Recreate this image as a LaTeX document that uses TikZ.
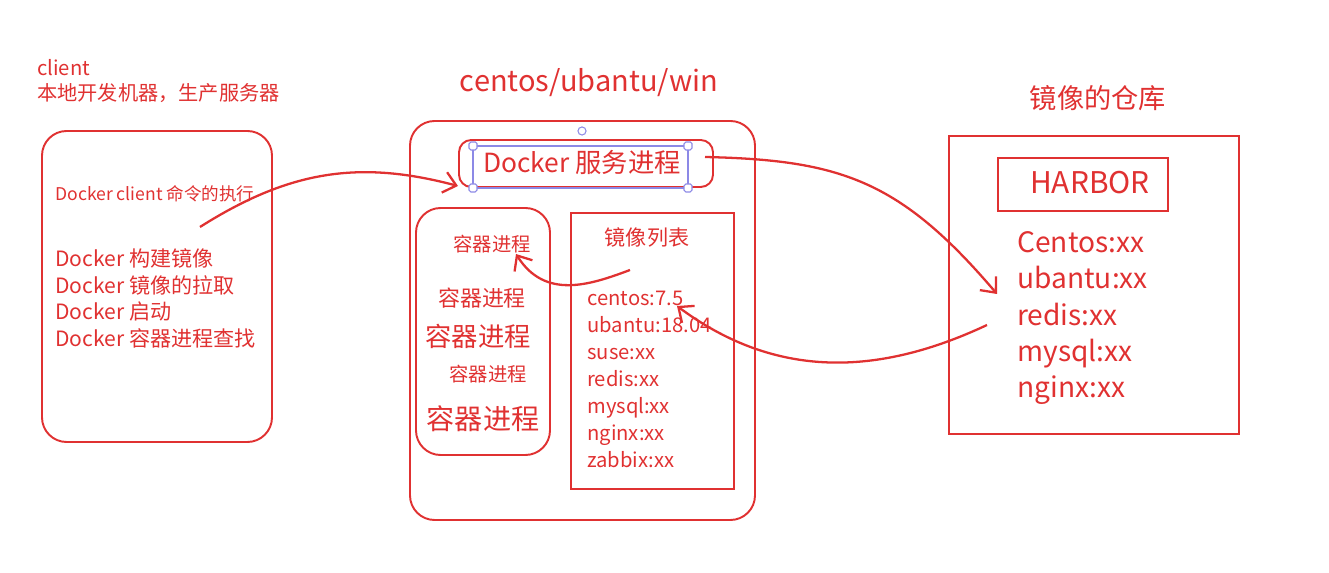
\documentclass[tikz,border=0pt]{standalone}
\usepackage{fontspec}
\setmainfont{Noto Sans CJK SC}
\usepackage{xcolor}
\usetikzlibrary{arrows.meta}
\definecolor{inkred}{HTML}{E03131}
\definecolor{selblue}{HTML}{8C89E6}

\begin{document}
\begin{tikzpicture}[x=0.02cm,y=-0.02cm,
    box/.style={draw=inkred,line width=1.1pt},
    link/.style={draw=inkred,line width=1.3pt,-{Straight Barb[length=7pt,width=12pt]}},
    txt/.style={text=inkred,inner sep=0pt,text height=1em,text depth=0.12em},
    handle/.style={draw=selblue,fill=white,line width=0.6pt}]
  \useasboundingbox (0,0) rectangle (1329,573);

  \node[txt,anchor=west,font=\fontsize{11.5}{13}\selectfont] (clientname) at (37,68) {client};
  \node[txt,anchor=west,font=\fontsize{11.5}{13}\selectfont] (clientrole) at (37,93) {本地开发机器，生产服务器};
  \draw[box,rounded corners=14pt] (42,131) rectangle (272,442);
  \node[txt,anchor=west,font=\fontsize{10}{12}\selectfont] (cmdexec) at (55,193) {Docker client 命令的执行};
  \node[txt,anchor=west,font=\fontsize{12}{14}\selectfont] (cmdbuild) at (55,259) {Docker 构建镜像};
  \node[txt,anchor=west,font=\fontsize{12}{14}\selectfont] (cmdpull) at (55,286) {Docker 镜像的拉取};
  \node[txt,anchor=west,font=\fontsize{12}{14}\selectfont] (cmdrun) at (55,312) {Docker 启动};
  \node[txt,anchor=west,font=\fontsize{12}{14}\selectfont] (cmdps) at (55,339) {Docker 容器进程查找};

  \node[txt,font=\fontsize{16.5}{19}\selectfont] (hosttitle) at (589,84) {centos/ubantu/win};
  \draw[box,rounded corners=14pt] (410,121) rectangle (755,520);
  \draw[box,rounded corners=7pt] (459,140) rectangle (713,187);
  \node[txt,font=\fontsize{15}{17}\selectfont] (daemon) at (582,165) {Docker 服务进程};
  \draw[selblue,line width=0.6pt] (473,146) rectangle (688,188);
  \draw[handle,rounded corners=1pt] (469,142) rectangle (477,150);
  \draw[handle,rounded corners=1pt] (684,142) rectangle (692,150);
  \draw[handle,rounded corners=1pt] (469,184) rectangle (477,192);
  \draw[handle,rounded corners=1pt] (684,184) rectangle (692,192);
  \draw[handle] (582,131) circle (2.3pt);

  \draw[box,rounded corners=14pt] (416,208) rectangle (550,455);
  \node[txt,font=\fontsize{11}{13}\selectfont] (proc1) at (492,244) {容器进程};
  \node[txt,font=\fontsize{12.5}{14}\selectfont] (proc2) at (482,299) {容器进程};
  \node[txt,font=\fontsize{15}{17}\selectfont] (proc3) at (478,339) {容器进程};
  \node[txt,font=\fontsize{11}{13}\selectfont] (proc4) at (488,374) {容器进程};
  \node[txt,font=\fontsize{16}{18}\selectfont] (proc5) at (483,422) {容器进程};

  \draw[box] (571,213) rectangle (734,489);
  \node[txt,font=\fontsize{12}{14}\selectfont] (imglist) at (647,238) {镜像列表};
  \node[txt,anchor=west,font=\fontsize{11.5}{13}\selectfont] (imgcentos) at (587,298) {centos:7.5};
  \node[txt,anchor=west,font=\fontsize{11.5}{13}\selectfont] (imgubantu) at (587,325) {ubantu:18.04};
  \node[txt,anchor=west,font=\fontsize{11.5}{13}\selectfont] (imgsuse) at (587,352) {suse:xx};
  \node[txt,anchor=west,font=\fontsize{11.5}{13}\selectfont] (imgredis) at (587,379) {redis:xx};
  \node[txt,anchor=west,font=\fontsize{11.5}{13}\selectfont] (imgmysql) at (587,406) {mysql:xx};
  \node[txt,anchor=west,font=\fontsize{11.5}{13}\selectfont] (imgnginx) at (587,433) {nginx:xx};
  \node[txt,anchor=west,font=\fontsize{11.5}{13}\selectfont] (imgzabbix) at (587,460) {zabbix:xx};

  \node[txt,font=\fontsize{15.5}{18}\selectfont] (repotitle) at (1098,101) {镜像的仓库};
  \draw[box] (949,136) rectangle (1239,434);
  \draw[box] (998,158) rectangle (1168,211);
  \node[txt,font=\fontsize{17}{19}\selectfont] (harbor) at (1090,186) {HARBOR};
  \node[txt,anchor=west,font=\fontsize{16}{18}\selectfont] (repocentos) at (1017,245) {Centos:xx};
  \node[txt,anchor=west,font=\fontsize{16}{18}\selectfont] (repoubantu) at (1017,281) {ubantu:xx};
  \node[txt,anchor=west,font=\fontsize{16}{18}\selectfont] (reporedis) at (1017,318) {redis:xx};
  \node[txt,anchor=west,font=\fontsize{16}{18}\selectfont] (repomysql) at (1017,354) {mysql:xx};
  \node[txt,anchor=west,font=\fontsize{16}{18}\selectfont] (reponginx) at (1017,390) {nginx:xx};

  \coordinate (cmdtail) at (200,227);
  \coordinate (daemonin) at (458,186);
  \coordinate (daemonout) at (705,157);
  \coordinate (repoin) at (997,294);
  \coordinate (repoout) at (987,325);
  \coordinate (centosin) at (677,306);
  \coordinate (listout) at (630,270);
  \coordinate (procin) at (516,254);

  \draw[link] (cmdtail) .. controls (290,170) and (360,160) .. (daemonin);
  \draw[link] (daemonout) .. controls (840,160) and (900,180) .. (repoin);
  \draw[link] (repoout) .. controls (870,380) and (770,375) .. (centosin);
  \draw[link] (listout) .. controls (590,285) and (545,300) .. (procin);
\end{tikzpicture}
\end{document}
